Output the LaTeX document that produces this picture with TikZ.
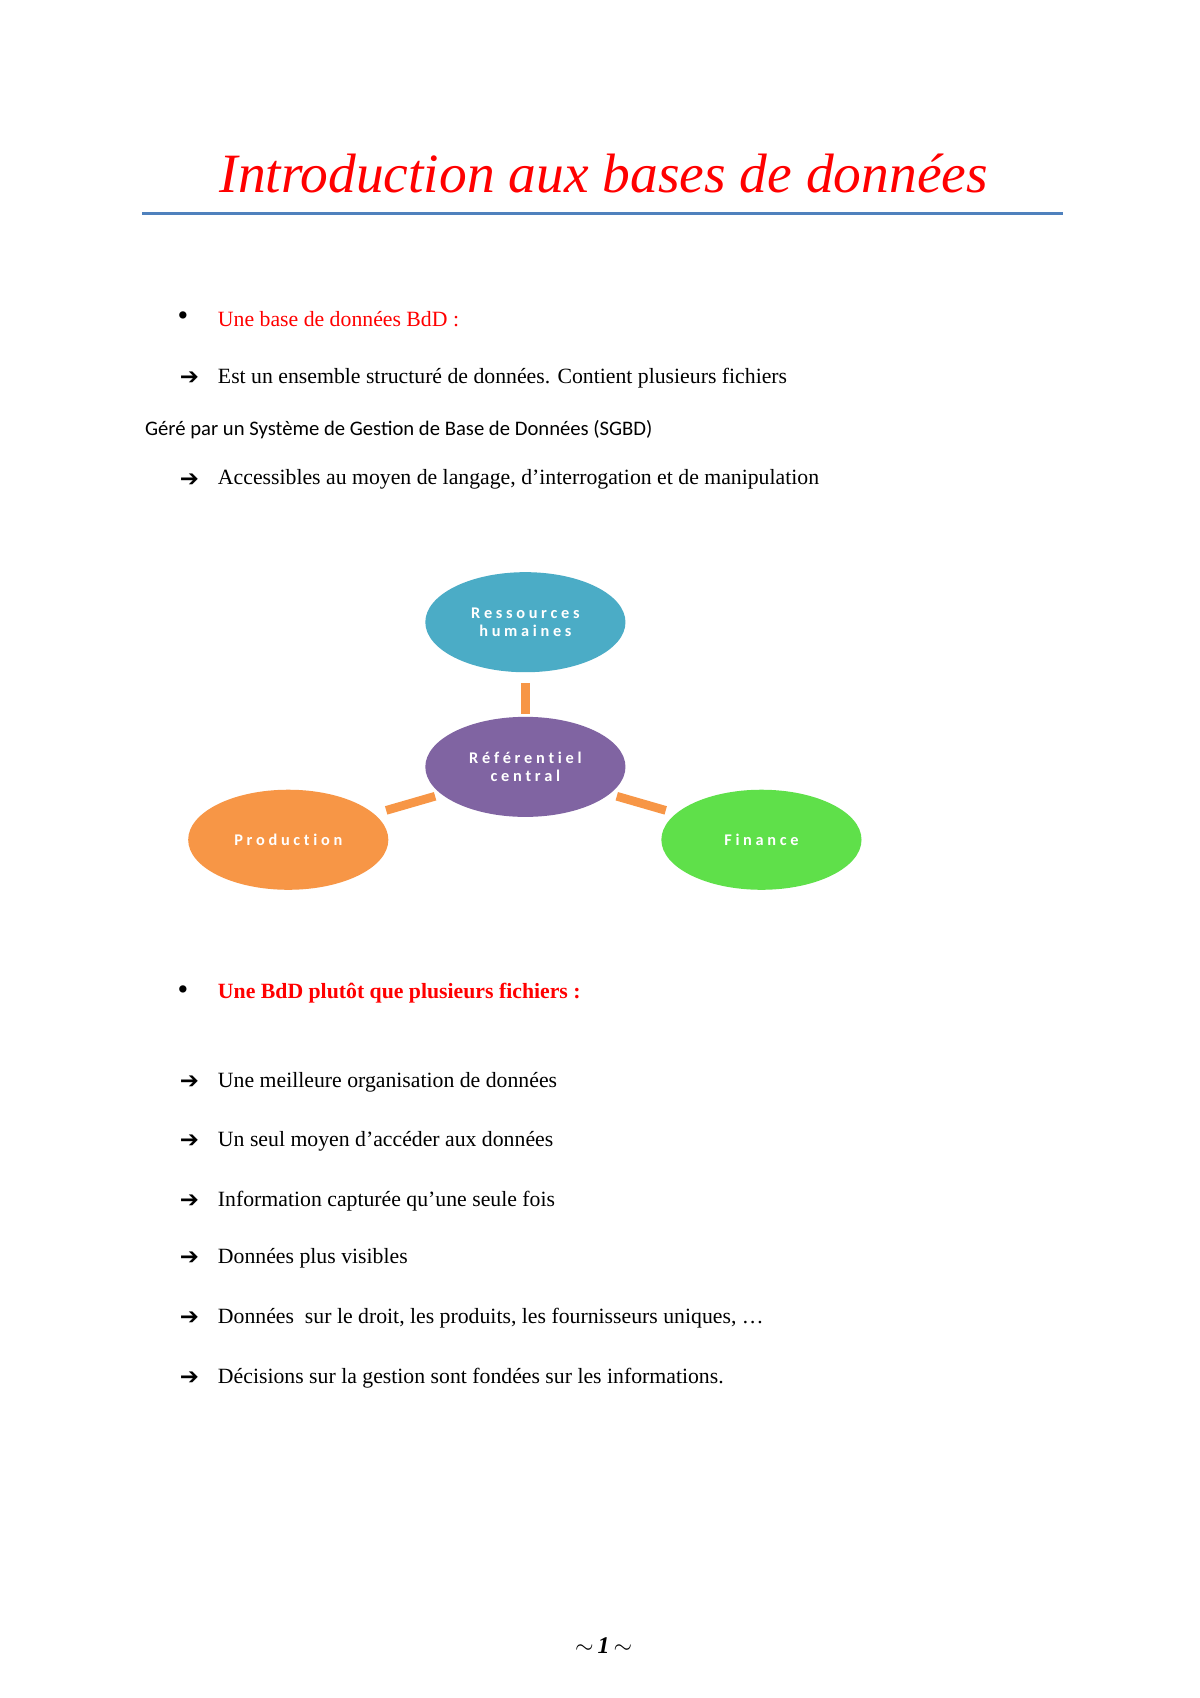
\documentclass[tikz,border=0pt]{standalone}
\usepackage{fontspec}
\setmainfont{Liberation Serif}
\newfontfamily\carl{Carlito}
\newfontfamily\djv{DejaVu Sans}
\usetikzlibrary{shapes.geometric}
\definecolor{tred}{HTML}{FF0000}
\definecolor{tblue}{HTML}{4F81BD}
\definecolor{cblue}{HTML}{4BACC6}
\definecolor{cpurple}{HTML}{8064A2}
\definecolor{corange}{HTML}{F79646}
\definecolor{cgreen}{HTML}{5FE04A}
\tikzset{
 txt/.style={anchor=west,inner sep=0pt,font=\fontsize{10}{12}\selectfont},
 arr/.style={anchor=west,inner sep=0pt,font=\djv\bfseries\fontsize{10.5}{12}\selectfont},
 ell/.style={ellipse,minimum width=92pt,minimum height=46pt,inner sep=0pt,text=white,align=center,font=\carl\bfseries\fontsize{7.5}{8.5}\selectfont},
 link/.style={corange,line width=4pt},
}
\begin{document}
\begin{tikzpicture}[x=0.5pt,y=-0.5pt]
\useasboundingbox (0,0) rectangle (1103,1561);
\fill[white] (0,0) rectangle (1103,1561);
\node (title) at (555,160) {\color{tred}\itshape\fontsize{25.5}{28}\selectfont Introduction aux bases de donn\'ees};
\draw[tblue,line width=1.5pt] (131,196) -- (977,196);
\node[txt,font=\fontsize{14}{14}\selectfont] (b1) at (163,293) {\textbullet};
\node[txt,text=tred] (h1) at (200,293) {Une base de donn\'ees BdD :};
\node[arr] (a1) at (165,348) {➔};
\node[txt] (t1) at (200,348) {Est un ensemble structur\'e de donn\'ees. Contient plusieurs fichiers};
\node[txt,font=\carl\fontsize{9.5}{11}\selectfont] (t2) at (133,395) {G\'er\'e par un Syst\`eme de Gestion de Base de Donn\'ees (SGBD)};
\node[arr] (a2) at (165,441) {➔};
\node[txt] (t3) at (200,441) {Accessibles au moyen de langage, d'interrogation et de manipulation};

\node[ell,fill=cblue] (rh) at (483,572) {R e s s o u r c e s\\h u m a i n e s};
\node[ell,fill=cpurple] (rc) at (483,705) {R \'e f \'e r e n t i e l\\c e n t r a l};
\node[ell,fill=corange] (pr) at (265,772) {P r o d u c t i o n};
\node[ell,fill=cgreen] (fi) at (700,772) {F i n a n c e};
\coordinate (c1) at (483,628); \coordinate (c2) at (483,656);
\coordinate (c3) at (355,745); \coordinate (c4) at (400,732);
\coordinate (c5) at (567,732); \coordinate (c6) at (612,745);
\draw[link] (c1) -- (c2);
\draw[link] (c3) -- (c4);
\draw[link] (c5) -- (c6);

\node[txt,font=\fontsize{14}{14}\selectfont] (b2) at (163,913) {\textbullet};
\node[txt,text=tred,font=\bfseries\fontsize{10}{12}\selectfont] (h2) at (200,913) {Une BdD plut\^ot que plusieurs fichiers :};
\foreach \y/\t [count=\i] in {995/Une meilleure organisation de donn\'ees,
 1049/Un seul moyen d'acc\'eder aux donn\'ees,
 1104/Information captur\'ee qu'une seule fois,
 1157/Donn\'ees plus visibles,
 1212/{Donn\'ees \ sur le droit, les produits, les fournisseurs uniques, \dots},
 1267/D\'ecisions sur la gestion sont fond\'ees sur les informations.}{
 \node[arr] (ar\i) at (165,\y) {➔};
 \node[txt] (l\i) at (200,\y) {\t};
}
\node (page) at (555,1513) {\fontsize{11}{13}\selectfont $\sim$\,\textit{\textbf{1}}\,$\sim$};
\end{tikzpicture}
\end{document}
